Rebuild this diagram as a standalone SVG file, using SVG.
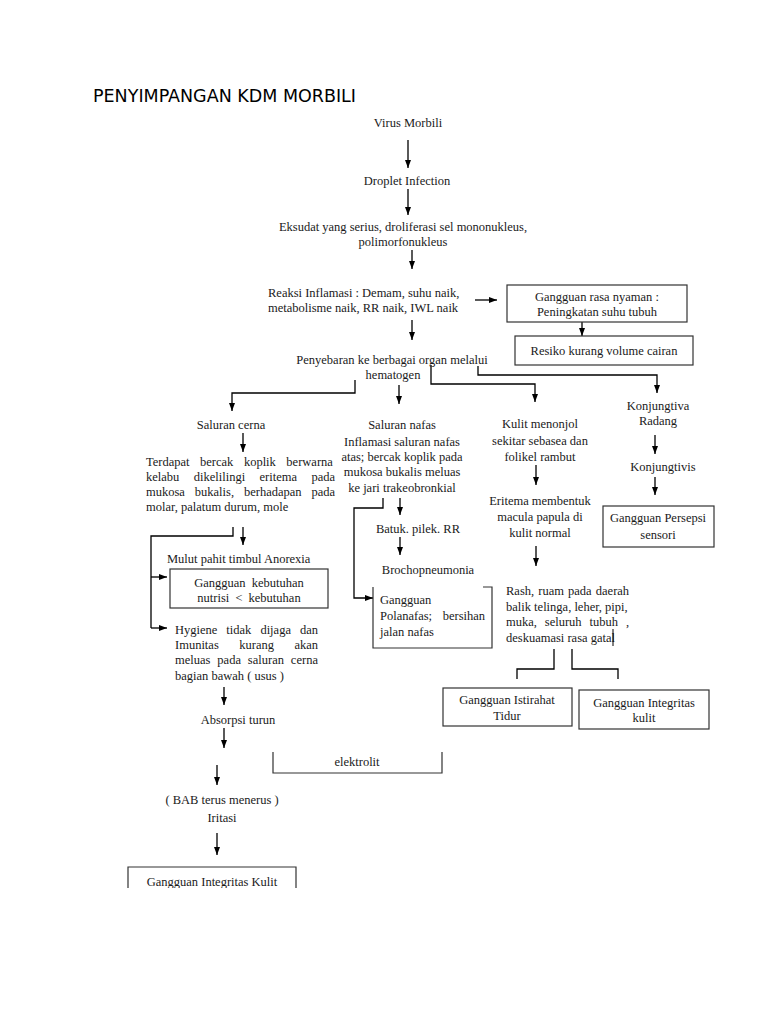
<svg xmlns="http://www.w3.org/2000/svg" width="768" height="1024" viewBox="0 0 768 1024">
<defs>
<marker id="ah" viewBox="0 0 8 8" markerUnits="userSpaceOnUse" markerWidth="8" markerHeight="8" refX="8" refY="4" orient="auto">
<path d="M0,1 L8,4 L0,7 z" fill="#000"/>
</marker>
<style>
.t{font-family:"Liberation Serif","Times New Roman",serif;font-size:12.5px;fill:#1a1a1a}
.c{text-anchor:middle}
.ttl{font-family:"DejaVu Sans","Noto Sans",sans-serif;font-size:17px;fill:#000}
.ln{fill:none;stroke:#000;stroke-width:1.3}
.ar{fill:none;stroke:#000;stroke-width:1.3;marker-end:url(#ah)}
.bx{fill:none;stroke:#333;stroke-width:1.2}
</style>
</defs>
<rect width="768" height="1024" fill="#fff"/>
<text class="ttl" x="93" y="102" textLength="263" lengthAdjust="spacingAndGlyphs">PENYIMPANGAN KDM MORBILI</text>

<g id="connectors">
<line class="ar" x1="408" y1="140" x2="408" y2="168"/>
<line class="ar" x1="408" y1="189" x2="408" y2="215"/>
<line class="ar" x1="412" y1="250" x2="412" y2="269"/>
<line class="ar" x1="475" y1="300" x2="497" y2="300"/>
<line class="ar" x1="582" y1="322" x2="582" y2="336"/>
<line class="ar" x1="412" y1="320" x2="412" y2="340"/>
<path class="ar" d="M355,380 V393 H232 V411"/>
<line class="ar" x1="399" y1="385" x2="399" y2="404"/>
<path class="ar" d="M431,365 V384 H535 V402"/>
<path class="ar" d="M478,366 V375 H657 V393"/>
<line class="ar" x1="243" y1="433" x2="243" y2="452"/>
<path class="ln" d="M233,527 V536 H151 V628"/>
<line class="ar" x1="151" y1="628" x2="167" y2="628"/>
<line class="ar" x1="151" y1="577" x2="167" y2="577"/>
<line class="ar" x1="243" y1="527" x2="243" y2="545"/>
<line class="ar" x1="224" y1="687" x2="224" y2="705"/>
<line class="ar" x1="224" y1="728" x2="224" y2="748"/>
<line class="ar" x1="217" y1="765" x2="217" y2="785"/>
<line class="ar" x1="217" y1="833" x2="217" y2="855"/>
<path class="ar" d="M383,498 V508 H354 V598 H373"/>
<line class="ar" x1="400" y1="498" x2="400" y2="515"/>
<line class="ar" x1="400" y1="537" x2="400" y2="555"/>
<line class="ar" x1="536" y1="465" x2="536" y2="485"/>
<line class="ar" x1="536" y1="546" x2="536" y2="566"/>
<path class="ln" d="M554,649 V669 H517 V679"/>
<path class="ln" d="M572,649 V669 H618 V679"/>
<line class="ar" x1="655" y1="435" x2="655" y2="454"/>
<line class="ar" x1="655" y1="477" x2="655" y2="495"/>
</g>

<g id="virus"><text class="t c" x="408" y="127">Virus Morbili</text></g>
<g id="droplet"><text class="t c" x="407" y="185">Droplet Infection</text></g>
<g id="eksudat">
<text class="t c" x="403" y="231">Eksudat yang serius, droliferasi sel mononukleus,</text>
<text class="t c" x="403" y="246">polimorfonukleus</text>
</g>
<g id="reaksi">
<text class="t" x="268" y="297">Reaksi Inflamasi : Demam, suhu naik,</text>
<text class="t" x="268" y="312">metabolisme naik, RR naik, IWL naik</text>
</g>
<g id="rasa-nyaman">
<rect class="bx" x="507" y="285" width="180" height="37"/>
<text class="t c" x="597" y="301">Gangguan rasa nyaman :</text>
<text class="t c" x="597" y="316">Peningkatan suhu tubuh</text>
</g>
<g id="resiko">
<rect class="bx" x="515" y="336" width="178" height="29"/>
<text class="t c" x="604" y="355">Resiko kurang volume cairan</text>
</g>
<g id="penyebaran">
<text class="t c" x="392" y="364">Penyebaran ke berbagai organ melalui</text>
<text class="t c" x="393" y="379">hematogen</text>
</g>

<g id="saluran-cerna"><text class="t c" x="231" y="429">Saluran cerna</text></g>
<g id="terdapat">
<text class="t" x="146" y="466" style="word-spacing:7.4px">Terdapat bercak koplik berwarna</text>
<text class="t" x="146" y="481" style="word-spacing:11.3px">kelabu dikelilingi eritema pada</text>
<text class="t" x="146" y="496" style="word-spacing:6.8px">mukosa bukalis, berhadapan pada</text>
<text class="t" x="146" y="511">molar, palatum durum, mole</text>
</g>
<g id="mulut"><text class="t" x="167" y="563">Mulut pahit timbul Anorexia</text></g>
<g id="nutrisi">
<rect class="bx" x="170" y="569" width="158" height="39"/>
<text class="t c" x="249" y="587" style="word-spacing:3px">Gangguan kebutuhan</text>
<text class="t c" x="249" y="602" style="word-spacing:3px">nutrisi &lt; kebutuhan</text>
</g>
<g id="hygiene">
<text class="t" x="175" y="634" style="word-spacing:5.9px">Hygiene tidak dijaga dan</text>
<text class="t" x="175" y="649" style="word-spacing:17.4px">Imunitas kurang akan</text>
<text class="t" x="175" y="664" style="word-spacing:3.8px">meluas pada saluran cerna</text>
<text class="t" x="175" y="680">bagian bawah ( usus )</text>
</g>
<g id="absorpsi"><text class="t c" x="238" y="724">Absorpsi turun</text></g>
<g id="elektrolit">
<path class="bx" d="M273,752 V773 H442 V752"/>
<text class="t c" x="357" y="766">elektrolit</text>
</g>
<g id="bab">
<text class="t c" x="222" y="804">( BAB terus menerus  )</text>
<text class="t c" x="222" y="822">Iritasi</text>
</g>
<g id="integritas-kulit-bawah">
<path class="bx" d="M128,888 V867 H296 V888"/>
<text class="t c" x="212" y="886">Gangguan Integritas Kulit</text>
</g>

<g id="saluran-nafas">
<text class="t c" x="402" y="429">Saluran nafas</text>
<text class="t c" x="402" y="446">Inflamasi saluran nafas</text>
<text class="t c" x="402" y="461">atas; bercak koplik pada</text>
<text class="t c" x="402" y="476">mukosa bukalis meluas</text>
<text class="t c" x="402" y="492">ke jari trakeobronkial</text>
</g>
<g id="batuk"><text class="t c" x="418" y="533">Batuk. pilek. RR</text></g>
<g id="broncho"><text class="t c" x="428" y="574">Brochopneumonia</text></g>
<g id="polanafas">
<path class="bx" d="M373,587 V648 H492 V587 H483"/>
<text class="t" x="380" y="604">Gangguan</text>
<text class="t" x="380" y="620" style="word-spacing:7.5px">Polanafas; bersihan</text>
<text class="t" x="380" y="636">jalan nafas</text>
</g>

<g id="kulit">
<text class="t c" x="540" y="428">Kulit menonjol</text>
<text class="t c" x="540" y="445">sekitar sebasea dan</text>
<text class="t c" x="540" y="461">folikel rambut</text>
</g>
<g id="eritema">
<text class="t c" x="540" y="505">Eritema membentuk</text>
<text class="t c" x="540" y="521">macula papula di</text>
<text class="t c" x="540" y="537">kulit normal</text>
</g>
<g id="rash">
<text class="t" x="506" y="595" style="word-spacing:1px">Rash, ruam pada daerah</text>
<text class="t" x="506" y="611">balik telinga, leher, pipi,</text>
<text class="t" x="506" y="626" style="word-spacing:4.8px">muka, seluruh tubuh ,</text>
<text class="t" x="506" y="642">deskuamasi rasa gatal</text>
<line x1="613" y1="629" x2="613" y2="646" stroke="#000" stroke-width="1"/>
</g>
<g id="istirahat">
<rect class="bx" x="443" y="688" width="129" height="38"/>
<text class="t c" x="507" y="704">Gangguan Istirahat</text>
<text class="t c" x="507" y="720">Tidur</text>
</g>
<g id="integritas-kulit">
<rect class="bx" x="579" y="690" width="130" height="39"/>
<text class="t c" x="644" y="707">Gangguan Integritas</text>
<text class="t c" x="644" y="722">kulit</text>
</g>

<g id="konjungtiva">
<text class="t c" x="658" y="410">Konjungtiva</text>
<text class="t c" x="658" y="425">Radang</text>
</g>
<g id="konjungtivis"><text class="t c" x="663" y="471">Konjungtivis</text></g>
<g id="persepsi">
<rect class="bx" x="603" y="506" width="111" height="41"/>
<text class="t c" x="658" y="522">Gangguan Persepsi</text>
<text class="t c" x="658" y="539">sensori</text>
</g>
<rect x="0" y="888" width="768" height="136" fill="#fff"/>
</svg>
